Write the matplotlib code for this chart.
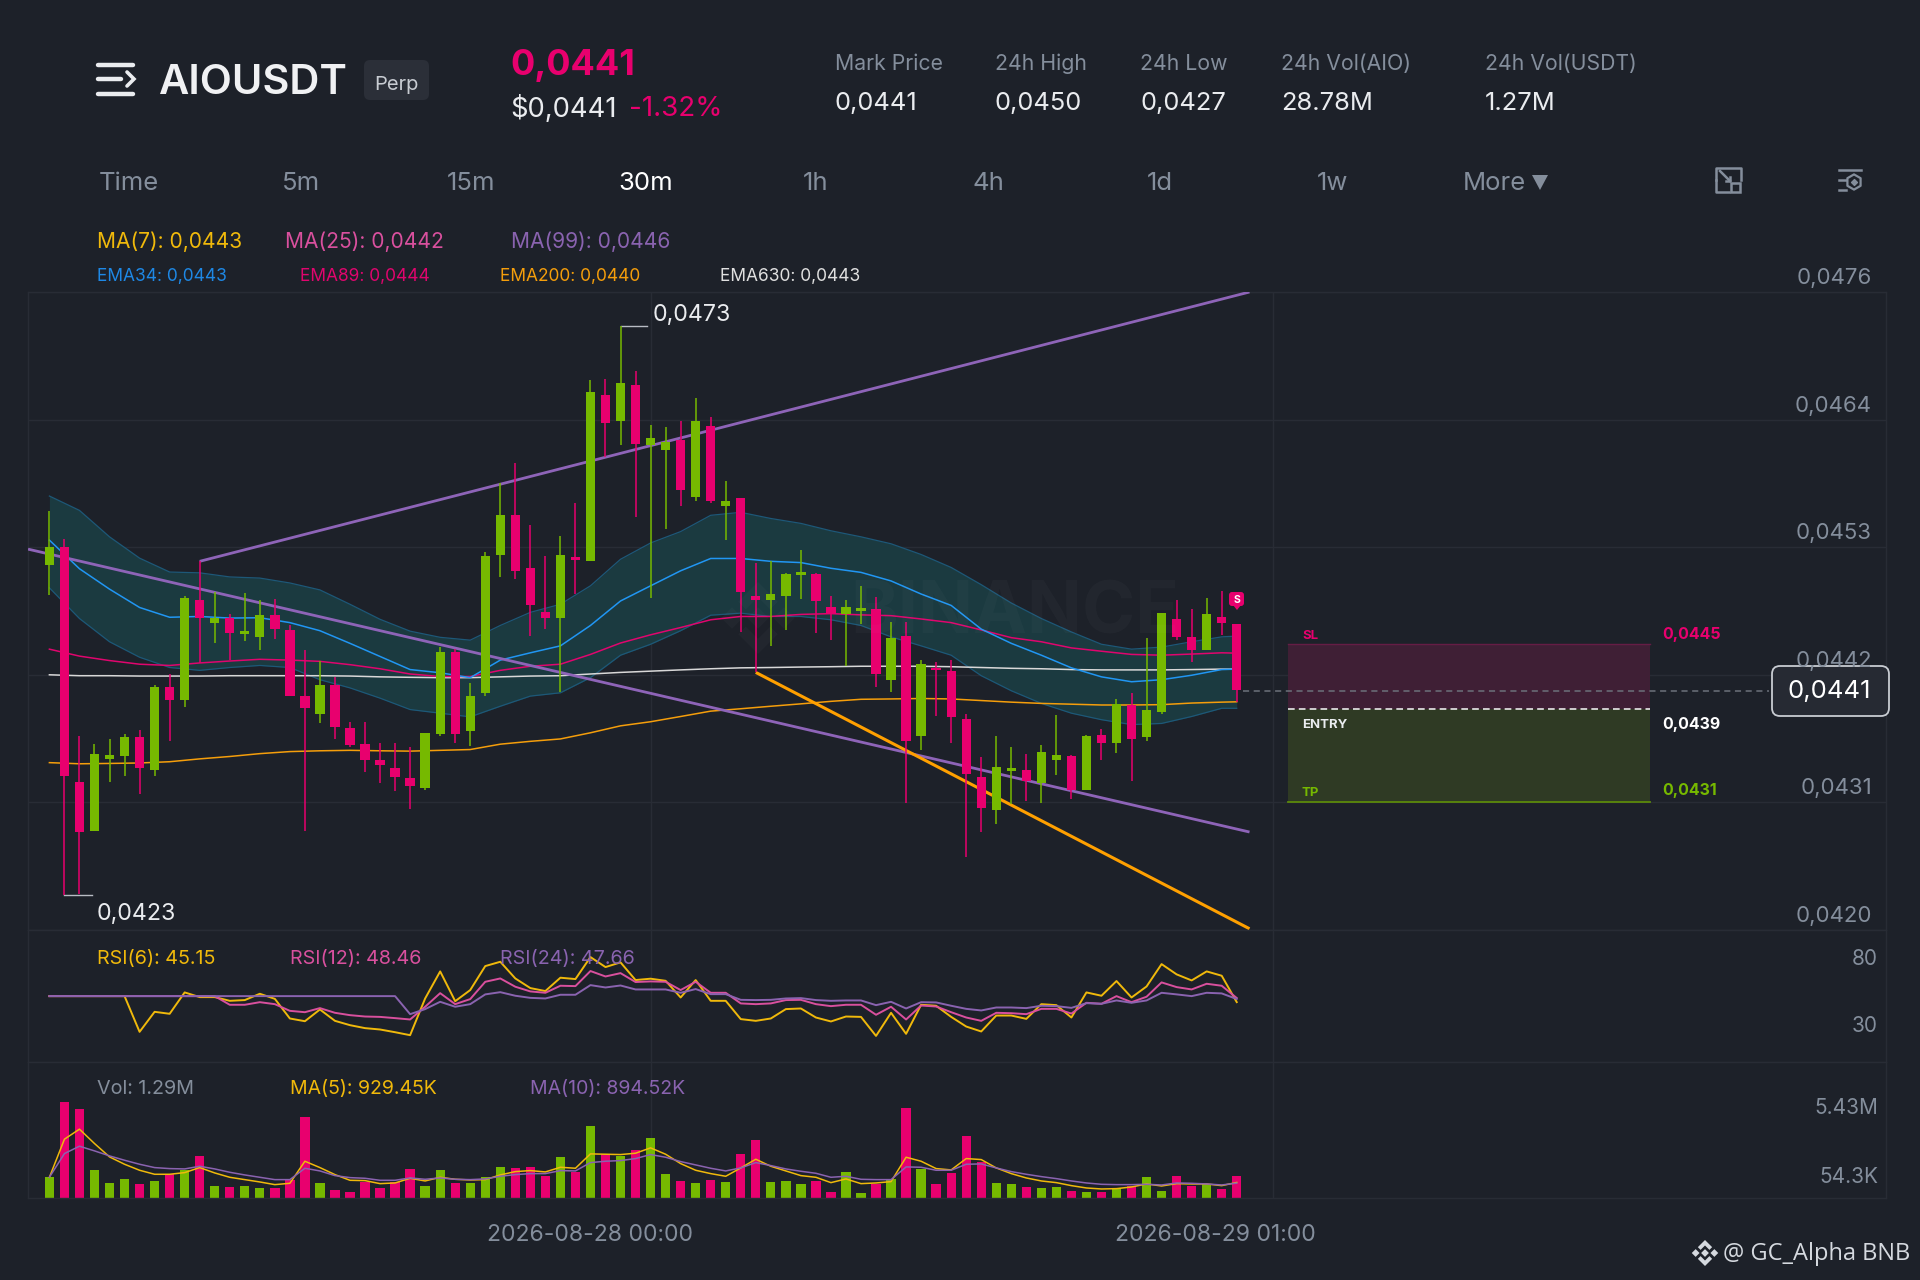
"""
AIOUSDT perp, 30m chart screenshot rebuilt with matplotlib
"""

import numpy as np
import matplotlib
matplotlib.use('Agg')
import matplotlib.pyplot as plt
from matplotlib.patches import FancyBboxPatch, Polygon, Rectangle

plt.rcParams['font.family'] = ['Inter', 'DejaVu Sans']

# ============================================================
# DATA (prices are in units of 1e-6, volumes in millions)
# ============================================================

highs = [45676, 45433, 43702, 43634, 43677, 43724, 43756, 44150, 44250, 44928, 45236, 44967, 44770, 44956, 44895, 44906,
         44673, 44462, 44361, 44225, 43828, 43828, 43645, 43645, 43606, 43727, 44480, 44465, 44164, 45318, 45923, 46099,
         45554, 45279, 45461, 45744, 46826, 46837, 47303, 46909, 46429, 46411, 46472, 46672, 46500, 45938, 45794, 45218,
         45236, 45135, 45339, 45132, 44935, 44895, 45021, 44924, 44705, 44705, 44372, 44354, 44372, 43892, 43520, 43702,
         43602, 43541, 43623, 43885, 43534, 43713, 43760, 44025, 44078, 44562, 44784, 44899, 44816, 44913, 44974, 44687]
lows = [44938, 42305, 42316, 42867, 43301, 43355, 43190, 43355, 43656, 43957, 44340, 44523, 44372, 44537, 44455, 44555,
        44050, 42867, 43820, 43677, 43606, 43391, 43290, 43222, 43061, 43229, 43706, 43645, 43616, 44057, 45099, 45082,
        44584, 44641, 44089, 44945, 45236, 46156, 46253, 45626, 44917, 45522, 45726, 45769, 45748, 45425, 44616, 44261,
        44494, 44637, 44906, 44605, 44544, 44315, 44687, 44129, 44089, 43111, 43577, 43878, 43645, 42645, 42860, 42928,
        43104, 43133, 43111, 43362, 43151, 43229, 43494, 43555, 43305, 43659, 43892, 44548, 44351, 44455, 44591, 44000]
opens = [45200, 45361, 43301, 42867, 43505, 43523, 43695, 43401, 44129, 44021, 44899, 44695, 44741, 44598, 44573, 44766,
         44630, 44057, 43896, 44150, 43774, 43634, 43494, 43426, 43330, 43247, 43724, 44440, 43749, 44078, 45293, 45644,
         45175, 44795, 44738, 45271, 45236, 46694, 46464, 46783, 46253, 46214, 46303, 45798, 46421, 45726, 45794, 44935,
         44899, 44928, 45114, 45128, 44831, 44770, 44802, 44816, 44193, 44580, 43699, 44304, 44272, 43849, 43340, 43050,
         43398, 43401, 43290, 43494, 43523, 43229, 43713, 43645, 43975, 43695, 43917, 44734, 44573, 44455, 44748, 44687]
closes = [45361, 43351, 42860, 43545, 43534, 43695, 43423, 44129, 44021, 44917, 44738, 44741, 44605, 44627, 44766, 44641,
          44050, 43949, 44150, 43785, 43623, 43494, 43444, 43344, 43262, 43727, 44440, 43717, 44050, 45282, 45644, 45153,
          44849, 44738, 45289, 45246, 46722, 46446, 46805, 46264, 46318, 46282, 45859, 46464, 45762, 45766, 44970, 44899,
          44949, 45128, 45139, 44888, 44777, 44831, 44827, 44243, 44562, 43659, 44333, 44279, 43871, 43369, 43068, 43430,
          43423, 43305, 43563, 43534, 43229, 43706, 43645, 43985, 43677, 43928, 44784, 44573, 44455, 44773, 44695, 44104]

# EMA lines and band were read every second candle
line_x = [0, 2, 4, 6, 8, 10, 12, 14, 16, 18, 20, 22, 24, 26, 28, 30, 32, 34, 36, 38, 40,
          42, 44, 46, 48, 50, 52, 54, 56, 58, 60, 62, 64, 66, 68, 70, 72, 74, 76, 78, 79]
ema34 = [45422, 45171, 44992, 44831, 44745, 44752, 44738, 44741, 44698, 44627, 44516, 44401, 44286, 44258, 44215, 44369,
         44433, 44494, 44673, 44888, 45021, 45153, 45261, 45261, 45236, 45225, 45175, 45139, 45064, 44949, 44849, 44641,
         44516, 44412, 44301, 44222, 44179, 44197, 44236, 44286, 44290]
ema89 = [44465, 44404, 44365, 44333, 44322, 44344, 44361, 44376, 44369, 44358, 44329, 44293, 44247, 44225, 44225, 44279,
         44315, 44333, 44419, 44519, 44591, 44655, 44723, 44752, 44752, 44770, 44777, 44766, 44759, 44730, 44698, 44634,
         44566, 44530, 44476, 44447, 44419, 44412, 44422, 44433, 44430]
ema200 = [43469, 43459, 43462, 43466, 43477, 43502, 43523, 43548, 43566, 43573, 43577, 43573, 43570, 43577, 43584, 43631,
          43656, 43677, 43731, 43792, 43828, 43874, 43921, 43942, 43964, 43985, 44007, 44025, 44028, 44032, 44028, 44014,
          44000, 43989, 43982, 43975, 43975, 43978, 43992, 44000, 44003]
ema630 = [44240, 44232, 44232, 44229, 44229, 44229, 44232, 44232, 44232, 44232, 44229, 44222, 44218, 44215, 44215, 44222,
          44229, 44232, 44247, 44261, 44272, 44283, 44293, 44301, 44304, 44308, 44311, 44315, 44315, 44315, 44311, 44304,
          44297, 44293, 44286, 44283, 44283, 44283, 44286, 44290, 44290]
band_upper = [45809, 45683, 45451, 45264, 45142, 45135, 45099, 45089, 45046, 44985, 44859, 44727, 44623, 44569, 44544,
              44673, 44788, 44859, 45021, 45254, 45397, 45497, 45640, 45666, 45612, 45569, 45504, 45451, 45390, 45296,
              45182, 45031, 44870, 44734, 44616, 44508, 44465, 44483, 44530, 44573, 44580]
band_lower = [45003, 44734, 44530, 44394, 44304, 44279, 44304, 44322, 44304, 44197, 44125, 44035, 43935, 43903, 43871,
              43964, 44053, 44082, 44215, 44412, 44508, 44627, 44763, 44781, 44752, 44752, 44723, 44673, 44573, 44494,
              44412, 44232, 44100, 43989, 43903, 43846, 43803, 43813, 43874, 43946, 43946]

rsi6 = [50, 50, 50, 50, 50, 50, 21.1, 37.3, 35.7, 53.0, 49.2, 49.2, 46.2, 46.8, 51.9, 47.8, 31.9, 29.7, 39.2, 30.0,
        26.5, 24.1, 23.0, 20.8, 18.4, 48.1, 70.0, 45.9, 54.9, 74.3, 77.8, 64.3, 56.5, 54.1, 64.9, 63.8, 81.6, 73.5, 77.3, 63.0,
        64.1, 62.4, 48.9, 63.0, 46.2, 46.2, 31.4, 30.0, 31.9, 39.5, 40.0, 32.7, 29.5, 33.5, 33.2, 17.8, 36.5, 19.5, 43.0, 42.2,
        33.2, 25.4, 21.4, 34.3, 34.3, 31.6, 43.5, 42.7, 32.7, 53.0, 50.3, 62.2, 48.9, 57.8, 75.9, 67.6, 62.7, 70.0, 66.5, 45.15]
rsi12 = [50, 50, 50, 50, 50, 50, 50, 50, 50, 50, 50, 50, 43.0, 43.0, 45.1, 43.5, 38.1, 37.0, 40.3, 36.5,
         34.6, 33.5, 33.2, 32.2, 31.1, 41.4, 52.4, 43.5, 47.6, 61.6, 64.3, 57.6, 53.8, 52.7, 58.4, 58.1, 70.3, 65.9, 68.6, 61.4,
         61.9, 61.6, 54.9, 61.6, 52.7, 52.7, 44.1, 43.5, 44.1, 46.8, 47.0, 43.5, 41.9, 43.0, 43.0, 34.9, 41.4, 31.1, 42.4, 41.6,
         37.0, 32.7, 30.0, 36.5, 36.2, 35.4, 39.7, 39.7, 35.9, 44.6, 43.8, 50.0, 45.1, 49.5, 61.1, 57.3, 55.4, 60.0, 58.4, 48.46]
rsi24 = [50, 50, 50, 50, 50, 50, 50, 50, 50, 50, 50, 50, 50, 50, 50, 50, 50, 50, 50, 50,
         50, 50, 50, 50, 35.4, 39.5, 45.4, 41.4, 43.5, 51.4, 53.2, 50.3, 48.6, 48.1, 51.1, 51.1, 58.9, 57.0, 58.6, 55.4,
         55.4, 55.4, 52.7, 55.7, 51.6, 51.6, 47.0, 46.8, 47.0, 48.1, 48.4, 46.8, 46.2, 46.5, 46.5, 42.7, 45.4, 40.0, 45.1, 44.9,
         42.2, 39.7, 38.4, 40.8, 40.8, 40.3, 42.2, 41.9, 40.5, 44.3, 43.8, 46.5, 44.6, 46.5, 52.7, 51.4, 50.0, 52.7, 52.2, 47.66]

volumes = [1.24, 5.74, 5.32, 1.70, 0.92, 1.12, 0.84, 1.04, 1.46, 1.66, 2.52, 0.72, 0.68, 0.70, 0.62, 0.58,
           1.06, 4.82, 0.92, 0.50, 0.36, 0.96, 0.58, 0.96, 1.72, 0.70, 1.70, 0.88, 0.88, 1.24, 1.88, 1.82,
           1.84, 1.34, 2.46, 1.58, 4.32, 2.62, 2.50, 2.90, 3.60, 1.42, 1.02, 0.92, 1.06, 0.96, 2.66, 3.46,
           0.96, 1.04, 0.82, 1.04, 0.34, 1.54, 0.28, 0.86, 1.14, 5.36, 1.72, 0.84, 1.48, 3.74, 2.14, 0.88,
           0.86, 0.68, 0.60, 0.64, 0.40, 0.34, 0.38, 0.62, 0.70, 1.24, 0.44, 1.34, 0.72, 0.82, 0.52, 1.29]
vol_ma5 = [1.24, 3.52, 4.12, 3.26, 2.46, 2.02, 1.66, 1.42, 1.42, 1.52, 1.82, 1.50, 1.24, 1.10, 0.96, 0.80,
           0.88, 2.20, 1.82, 1.40, 1.06, 1.04, 0.86, 0.90, 1.18, 1.02, 1.24, 1.12, 1.08, 1.10, 1.38, 1.58,
           1.64, 1.56, 1.84, 1.78, 2.64, 2.62, 2.60, 2.68, 3.00, 2.62, 2.06, 1.66, 1.46, 1.30, 1.80, 2.32,
           1.90, 1.62, 1.34, 1.24, 0.92, 1.14, 0.86, 0.90, 0.98, 2.44, 2.20, 1.76, 1.68, 2.36, 2.30, 1.80,
           1.46, 1.20, 1.02, 0.92, 0.74, 0.60, 0.54, 0.56, 0.66, 0.84, 0.72, 0.86, 0.84, 0.84, 0.74, 0.93]
vol_ma10 = [1.24, 2.66, 3.10, 2.82, 2.52, 2.26, 2.02, 1.82, 1.76, 1.74, 1.90, 1.74, 1.54, 1.38, 1.24, 1.10,
            1.10, 1.78, 1.62, 1.34, 1.22, 1.18, 1.06, 1.06, 1.20, 1.12, 1.20, 1.12, 1.10, 1.14, 1.30, 1.40,
            1.46, 1.46, 1.64, 1.62, 2.12, 2.20, 2.24, 2.36, 2.60, 2.44, 2.18, 1.98, 1.78, 1.62, 1.80, 2.12,
            1.94, 1.74, 1.60, 1.48, 1.24, 1.30, 1.12, 1.10, 1.10, 1.86, 1.84, 1.66, 1.66, 2.02, 2.04, 1.80,
            1.58, 1.42, 1.28, 1.16, 1.02, 0.90, 0.82, 0.80, 0.80, 0.82, 0.78, 0.90, 0.88, 0.84, 0.78, 0.89]

# drawn trend lines, (candle index, price)
channel_top = [(10, 45236), (79.85, 47600)]
channel_bottom = [(-1.42, 45343), (79.85, 42860)]
orange_trend = [(47, 44261), (79.85, 42011)]

price_ticks = [47600, 46480, 45360, 44240, 43120, 42000]
price_labels = ['0,0476', '0,0464', '0,0453', '0,0442', '0,0431', '0,0420']
sl_price, entry_price, tp_price, last_price = 44510, 43940, 43120, 44100

GREEN = '#76b900'
PINK = '#e8006e'
BG = '#1d2129'
GRID = '#282c35'
GRAY = '#848e9c'
LIGHT = '#eaecef'
YELLOW = '#f0b90b'
ROSE = '#d9509e'
PURPLE = '#8a63b0'

# ============================================================
# AXES
# ============================================================

W, H = 1920, 1280
LEFT, RIGHT = 28, 1886
fig = plt.figure(figsize=(W / 100, H / 100), dpi=100, facecolor=BG)


def panel(top, bottom):
    new_ax = fig.add_axes([LEFT / W, 1 - bottom / H, (RIGHT - LEFT) / W, (bottom - top) / H], facecolor=BG)
    new_ax.set_xlim(-1.424, 122.2)
    new_ax.set_xticks([40, 81.4])
    new_ax.grid(True, axis='x', color=GRID, lw=1)
    new_ax.tick_params(length=0, labelbottom=False, labelleft=False)
    new_ax.set_axisbelow(True)
    for spine in new_ax.spines.values():
        spine.set_color(GRID)
        spine.set_linewidth(1)
    return new_ax


ax = panel(292, 930)
ax_rsi = panel(930, 1062)
ax_vol = panel(1062, 1198)

ui = fig.add_axes([0, 0, 1, 1], zorder=10)
ui.set_xlim(0, W)
ui.set_ylim(H, 0)
ui.axis('off')

# ============================================================
# PRICE PANEL
# ============================================================

x = np.arange(len(closes))
to_price = lambda v: np.asarray(v) * 1e-6

ax.set_ylim(0.0420, 0.0476)
ax.set_yticks(to_price(price_ticks))
ax.grid(True, axis='y', color=GRID, lw=1)

ax.fill_between(line_x, to_price(band_lower), to_price(band_upper), color='#1b3a40', lw=0, zorder=1)
ax.plot(line_x, to_price(band_upper), color='#1d5878', lw=0.9, zorder=1.2)
ax.plot(line_x, to_price(band_lower), color='#1d5878', lw=0.9, zorder=1.2)
ax.plot(line_x, to_price(ema630), color='#d8d8d8', lw=1.1, zorder=2)
ax.plot(line_x, to_price(ema200), color='#f59e0b', lw=1.1, zorder=2)
ax.plot(line_x, to_price(ema89), color='#e0056e', lw=1.1, zorder=2)
ax.plot(line_x, to_price(ema34), color='#2196f3', lw=1.1, zorder=2)

for line, color, width in [(channel_top, '#8e64b8', 2.0), (channel_bottom, '#8e64b8', 2.0), (orange_trend, '#ffa000', 2.2)]:
    xs, ys = zip(*line)
    ax.plot(xs, to_price(ys), color=color, lw=width, zorder=3, solid_capstyle='butt')

colors = [GREEN if c >= o else PINK for o, c in zip(opens, closes)]
ax.vlines(x, to_price(lows), to_price(highs), colors=colors, lw=1.1, zorder=4)
ax.bar(x, to_price(np.abs(np.subtract(closes, opens))), bottom=to_price(np.minimum(opens, closes)),
       width=0.62, color=colors, zorder=5)

# trade box
box_x = [82.4, 106.5]
ax.fill_between(box_x, to_price(entry_price), to_price(sl_price), color='#3f1f35', lw=0, zorder=1)
ax.fill_between(box_x, to_price(tp_price), to_price(entry_price), color='#2f3a24', lw=0, zorder=1)
ax.plot(box_x, to_price([sl_price, sl_price]), color='#651d45', lw=1, zorder=1.5)
ax.plot(box_x, to_price([tp_price, tp_price]), color='#5b8a0a', lw=1.3, zorder=1.5)
ax.plot(box_x, to_price([entry_price, entry_price]), color='#e8e8e8', lw=1.2, ls=(0, (4, 2.5)), zorder=2)
ax.plot([79.4, 114.4], to_price([last_price, last_price]), color='#6c717b', lw=1.1, ls=(0, (4, 3)), zorder=1.6)

# extreme markers
ax.plot([38, 39.76], to_price([highs[38], highs[38]]), color='#b8bcc4', lw=1, zorder=3)
ax.plot([1, 2.85], to_price([lows[1], lows[1]]), color='#b8bcc4', lw=1, zorder=3)

# ============================================================
# RSI AND VOLUME PANELS
# ============================================================

ax_rsi.set_ylim(-3.3, 103.5)
ax_rsi.plot(x, rsi6, color=YELLOW, lw=1.4)
ax_rsi.plot(x, rsi12, color=ROSE, lw=1.4)
ax_rsi.plot(x, rsi24, color=PURPLE, lw=1.4)

ax_vol.set_ylim(0, 8.14)
ax_vol.bar(x, volumes, width=0.62, color=colors, zorder=2)
ax_vol.plot(x, vol_ma5, color=YELLOW, lw=1.1, zorder=3)
ax_vol.plot(x, vol_ma10, color=PURPLE, lw=1.1, zorder=3)

# ============================================================
# TEXT AND ICONS (pixel coordinates on the overlay axes)
# ============================================================


def label(px, py, text, color=GRAY, size=15, weight='normal', ha='left', **kwargs):
    # Inter sits about 3 px high when centred
    ui.text(px, py + 3, text, color=color, fontsize=size, fontweight=weight, ha=ha, va='center', **kwargs)


def bnb_logo(cx, cy, r, color, alpha=1.0):
    s = r * 0.3
    for dx, dy in [(0, 0), (-r * 0.72, 0), (r * 0.72, 0)]:
        ui.add_patch(Polygon([(cx + dx - s, cy + dy), (cx + dx, cy + dy - s), (cx + dx + s, cy + dy), (cx + dx, cy + dy + s)],
                             fc=color, ec='none', alpha=alpha))
    for sign in (-1, 1):
        tip = cy + sign * r
        ui.add_patch(Polygon([(cx, tip), (cx + r * 0.55, cy + sign * r * 0.45), (cx + r * 0.34, cy + sign * r * 0.24),
                              (cx, cy + sign * r * 0.58), (cx - r * 0.34, cy + sign * r * 0.24),
                              (cx - r * 0.55, cy + sign * r * 0.45)], fc=color, ec='none', alpha=alpha))


# faint watermark
label(1015, 611, 'BINANCE', color='white', alpha=0.025, size=52, weight='bold', ha='center')
bnb_logo(758, 618, 36, 'white', alpha=0.025)

# header
for py, x0, x1 in [(65, 98, 133), (79, 98, 121), (94, 98, 133)]:
    ui.plot([x0, x1], [py, py], color=LIGHT, lw=3.2, solid_capstyle='round')
ui.plot([127, 134, 127], [72, 79, 86], color=LIGHT, lw=2.6, solid_capstyle='round', solid_joinstyle='miter')
label(159, 80, 'AIOUSDT', color='#f0f1f3', size=30, weight='semibold')
ui.add_patch(FancyBboxPatch((368, 64), 57, 32, boxstyle='round,pad=4,rounding_size=6', fc='#2b2f38', ec='none'))
label(396, 82, 'Perp', color='#c8ccd2', size=14.5, ha='center')
label(510, 62, '0,0441', color=PINK, size=26, weight='bold')
label(510, 106, '$0,0441', color=LIGHT, size=19.7)
label(629, 106, '-1.32%', color=PINK, size=20)

stat_x = [835, 995, 1140, 1281, 1485]
stat_names = ['Mark Price', '24h High', '24h Low', '24h Vol(AIO)', '24h Vol(USDT)']
stat_values = ['0,0441', '0,0450', '0,0427', '28.78M', '1.27M']
for sx, name, value in zip(stat_x, stat_names, stat_values):
    label(sx, 61, name, size=15.3)
    label(sx, 100, value, color=LIGHT, size=18.3)

tab_x = [99, 282, 447, 618, 803, 973, 1147, 1317, 1463]
tabs = ['Time', '5m', '15m', '30m', '1h', '4h', '1d', '1w', 'More']
for tx, tab in zip(tab_x, tabs):
    label(tx, 181, tab, color='white' if tab == '30m' else GRAY, size=18.5)
ui.add_patch(Polygon([(1532, 175), (1548, 175), (1540, 190)], fc=GRAY, ec='none'))

# screen and settings icons
ui.plot([1716, 1716, 1741, 1741], [180, 168, 168, 180], color=GRAY, lw=1.8)
ui.plot([1716, 1716, 1729], [180, 192, 192], color=GRAY, lw=1.8)
ui.add_patch(Rectangle((1731, 183), 9, 9, fc='none', ec=GRAY, lw=1.8))
ui.plot([1720, 1730], [171, 181], color=GRAY, lw=1.8)
ui.plot([1726, 1730, 1730], [181, 181, 177], color=GRAY, lw=1.8)
ui.plot([1839, 1861], [170, 170], color=GRAY, lw=1.8)
ui.plot([1839, 1846], [180, 180], color=GRAY, lw=1.8)
ui.plot([1839, 1846], [190, 190], color=GRAY, lw=1.8)
ui.scatter([1854], [182], marker='h', s=120, fc='none', ec=GRAY, lw=1.6)
ui.scatter([1854], [182], marker='D', s=9, c=GRAY)

# indicator legends
label(97, 239, 'MA(7): 0,0443', color=YELLOW, size=15.1)
label(285, 239, 'MA(25): 0,0442', color=ROSE, size=15.1)
label(511, 239, 'MA(99): 0,0446', color=PURPLE, size=15.1)
label(97, 273, 'EMA34: 0,0443', color='#1e88e5', size=12.5)
label(300, 273, 'EMA89: 0,0444', color='#e0056e', size=12.5)
label(500, 273, 'EMA200: 0,0440', color='#f59e0b', size=12.5)
label(720, 273, 'EMA630: 0,0443', color='#e0e0e0', size=12.5)
label(97, 956, 'RSI(6): 45.15', color=YELLOW, size=14.2)
label(290, 956, 'RSI(12): 48.46', color=ROSE, size=14.2)
label(500, 956, 'RSI(24): 47.66', color=PURPLE, size=14.2)
label(97, 1086, 'Vol: 1.29M', size=14.2)
label(290, 1086, 'MA(5): 929.45K', color=YELLOW, size=14)
label(530, 1086, 'MA(10): 894.52K', color=PURPLE, size=14)

# high and low labels
label(653, 312, '0,0473', color=LIGHT, size=16.7)
label(97, 911, '0,0423', color=LIGHT, size=16.7)

# axis labels
for tick, text in zip(price_ticks, price_labels):
    py = 292 + (47600 - tick) / 5600 * 638
    label(1872, py - 17, text, size=16, ha='right')
label(1878, 956, '80', size=15, ha='right')
label(1878, 1023, '30', size=15, ha='right')
label(1878, 1105, '5.43M', size=15, ha='right')
label(1878, 1174, '54.3K', size=15, ha='right')
label(590, 1232, '2026-08-28 00:00', size=16.5, ha='center')
label(1215, 1232, '2026-08-29 01:00', size=16.5, ha='center')

# trade box labels
label(1302, 633, 'SL', color=PINK, size=9.5, weight='bold')
label(1302, 722, 'ENTRY', color=LIGHT, size=9.5, weight='bold')
label(1302, 790, 'TP', color=GREEN, size=9.5, weight='bold')
label(1662, 632, '0,0445', color=PINK, size=11.5, weight='bold')
label(1662, 721, '0,0439', color='white', size=11.5, weight='bold')
label(1662, 788, '0,0431', color=GREEN, size=11.5, weight='bold')

# last price tag
ui.add_patch(FancyBboxPatch((1778, 672), 105, 38, boxstyle='round,pad=6,rounding_size=8', fc='#262a33', ec='#c8ccd2', lw=1.3))
label(1829, 688, '0,0441', color='white', size=18.5, ha='center')

# sell marker
ui.add_patch(FancyBboxPatch((1231, 594), 11, 10, boxstyle='round,pad=2,rounding_size=3', fc=PINK, ec='none'))
ui.add_patch(Polygon([(1233, 605), (1241, 605), (1237, 610)], fc=PINK, ec='none'))
label(1236.5, 597, 'S', color='white', size=7.5, weight='bold', ha='center')

# signature
bnb_logo(1705, 1253, 13, '#d5d9df')
label(1910, 1251, '@ GC_Alpha BNB', color='#d5d9df', size=17, ha='right', family='Open Sans')

fig.savefig('out.png', dpi=100, facecolor=BG)
